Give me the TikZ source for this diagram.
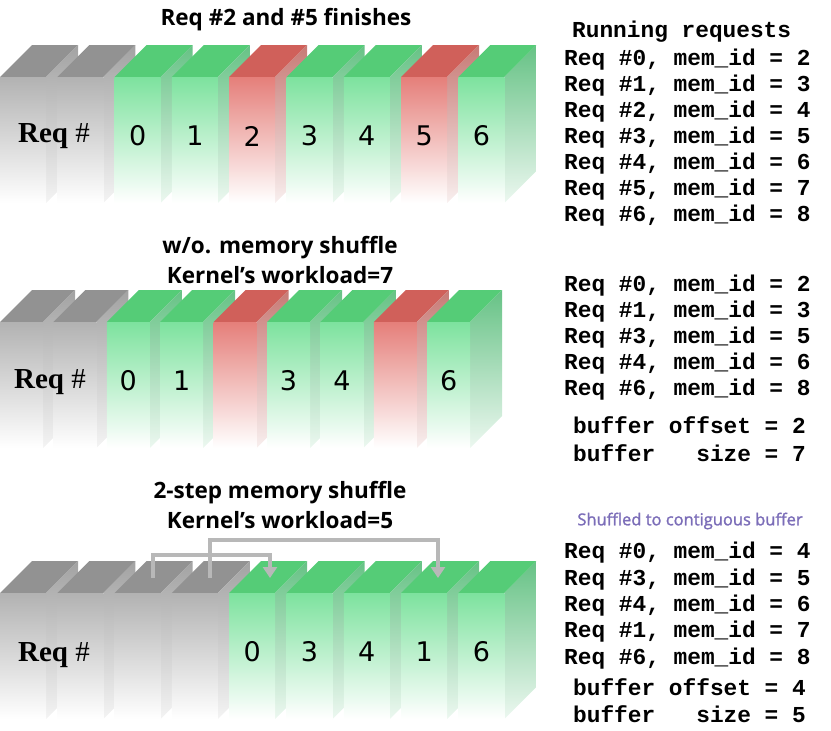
\documentclass[tikz,border=0pt]{standalone}
\usepackage{fontspec}
\setmainfont{Open Sans}
\newfontfamily\mono{Liberation Mono}
\newfontfamily\serifreq{Liberation Serif}
\newfontfamily\digit{DejaVu Sans}
\definecolor{gtop}{HTML}{929292}\definecolor{gside}{HTML}{A2A2A2}\definecolor{gfront}{HTML}{B2B2B2}
\definecolor{ntop}{HTML}{55CC77}\definecolor{nside}{HTML}{66C285}\definecolor{nfront}{HTML}{7DE29E}
\definecolor{rtop}{HTML}{D0605A}\definecolor{rside}{HTML}{C77A75}\definecolor{rfront}{HTML}{E57F7A}
\definecolor{arr}{HTML}{B8B8B8}\definecolor{purp}{HTML}{7B6DB8}
\usetikzlibrary{arrows.meta}
\tikzset{
 mtxt/.style={font=\mono\bfseries\fontsize{22.8}{22.8}\selectfont,anchor=west,inner sep=0pt},
 ttl/.style={font=\bfseries\fontsize{22.5}{30}\selectfont,align=center,inner sep=0pt},
 dig/.style={font=\digit\fontsize{27}{27}\selectfont,inner sep=0pt},
 reqlbl/.style={font=\serifreq\fontsize{29}{29}\selectfont,inner sep=0pt},
 sarrow/.style={arr,line width=4pt,-{Triangle[length=11pt,width=14pt]}},
}
% #1 x, #2 front top y, #3 width, #4 prefix color, #5 name
\newcommand\myblk[5]{%
 \fill[#4top] (#1,#2) -- ++(32,-32) -- ++(#3,0) -- ++(-32,32) -- cycle;
 \shade[top color=#4side,bottom color=white!88!#4side] (#1+#3,#2) -- ++(32,-32) -- ++(0,126) -- ++(-32,32) -- cycle;
 \shade[top color=#4front,bottom color=white] (#1,#2) rectangle ++(#3,126);
 \coordinate (#5) at (#1+#3/2,#2+59);
}
\begin{document}
\begin{tikzpicture}[x=1pt,y=-1pt]
\useasboundingbox (0,0) rectangle (831,731);
% row 1
\node[ttl] (t1) at (286,20) {Req \#2 and \#5 finishes};
\foreach \c [count=\i from 0] in {g,g,n,n,r,n,n,r,n}{\myblk{57.3*\i}{77}{46}{\c}{a\i}}
\node[reqlbl] (r1) at (54,136) {\textbf{Req} \#};
\foreach \d/\i in {0/2,1/3,2/4,3/5,4/6,5/7,6/8}{\node[dig] (d1\d) at (a\i) {\d};}
% row 2
\node[ttl] (t2) at (280,260) {w/o. memory shuffle\\Kernel's workload=7};
\foreach \c [count=\i from 0] in {g,g,n,n,r,n,n,r,n}{\myblk{53.4*\i}{322}{43}{\c}{b\i}}
\node[reqlbl] (r2) at (50,382) {\textbf{Req} \#};
\foreach \d/\i in {0/2,1/3,3/5,4/6,6/8}{\node[dig] (d2\d) at (b\i) {\d};}
% row 3
\node[ttl] (t3) at (280,505) {2-step memory shuffle\\Kernel's workload=5};
\foreach \c [count=\i from 0] in {g,g,g,g,n,n,n,n,n}{\myblk{57.3*\i}{593}{46}{\c}{c\i}}
\node[reqlbl] (r3) at (54,655) {\textbf{Req} \#};
\foreach \d/\i in {0/4,3/5,4/6,1/7,6/8}{\node[dig] (d3\d) at (c\i) {\d};}
\coordinate (s1) at (153,578); \coordinate (s2) at (210,578);
\coordinate (e1) at (270,578); \coordinate (e2) at (438,578);
\draw[sarrow] (s1) |- (212,555) -| (e1);
\draw[sarrow] (s2) |- (300,540) -| (e2);
% right text
\node[mtxt] (h) at (572,32) {Running requests};
\foreach \t [count=\i from 0] in {{Req \#0, mem\_id = 2},{Req \#1, mem\_id = 3},{Req \#2, mem\_id = 4},{Req \#3, mem\_id = 5},{Req \#4, mem\_id = 6},{Req \#5, mem\_id = 7},{Req \#6, mem\_id = 8}}
 {\node[mtxt] (p\i) at (564,60+26*\i) {\t};}
\foreach \t [count=\i from 0] in {{Req \#0, mem\_id = 2},{Req \#1, mem\_id = 3},{Req \#3, mem\_id = 5},{Req \#4, mem\_id = 6},{Req \#6, mem\_id = 8}}
 {\node[mtxt] (q\i) at (564,286+26*\i) {\t};}
\node[mtxt] (qo) at (573,425) {buffer offset = 2};
\node[mtxt] (qs) at (573,453) {buffer\ \ \ size = 7};
\node[font=\fontsize{16.5}{16.5}\selectfont\addfontfeatures{FakeBold=1.5},text=purp,inner sep=0pt] (sh) at (690,521) {Shuffled to contiguous buffer};
\foreach \t [count=\i from 0] in {{Req \#0, mem\_id = 4},{Req \#3, mem\_id = 5},{Req \#4, mem\_id = 6},{Req \#1, mem\_id = 7},{Req \#6, mem\_id = 8}}
 {\node[mtxt] (u\i) at (564,553+26.3*\i) {\t};}
\node[mtxt] (uo) at (573,687) {buffer offset = 4};
\node[mtxt] (us) at (573,714) {buffer\ \ \ size = 5};
\end{tikzpicture}
\end{document}
